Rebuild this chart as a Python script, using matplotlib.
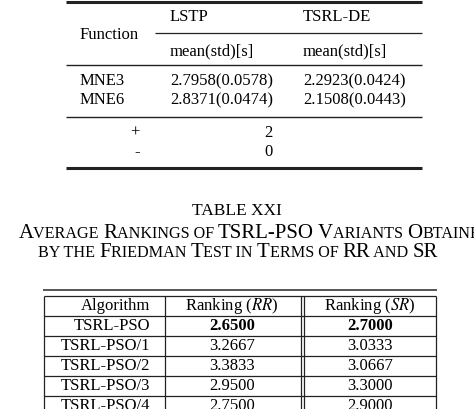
import matplotlib
matplotlib.use("Agg")
import matplotlib.pyplot as plt

plt.rcParams["font.family"] = ["Liberation Serif", "DejaVu Serif"]
plt.rcParams["mathtext.fontset"] = "stix"

# top table
top_cols = ["LSTP", "TSRL-DE"]
top_funcs = ["MNE3", "MNE6"]
top_vals = [["2.7958(0.0578)", "2.2923(0.0424)"],
            ["2.8371(0.0474)", "2.1508(0.0443)"]]
sig_labels = ["+", "-"]
sig_counts = ["2", "0"]

# bottom table
algorithms = ["TSRL-PSO", "TSRL-PSO/1", "TSRL-PSO/2", "TSRL-PSO/3", "TSRL-PSO/4"]
rank_rr = ["2.6500", "3.2667", "3.3833", "2.9500", "2.7500"]
rank_sr = ["2.7000", "3.0333", "3.0667", "3.3000", "2.9000"]

FS = 12
fig = plt.figure(figsize=(4.74, 4.09), dpi=100)
ax = fig.add_axes([0, 0, 1, 1])
ax.set_xlim(0, 474)
ax.set_ylim(409, 0)
ax.axis("off")

def hline(y, x0, x1, lw=1.0, c="#222"):
    ax.plot([x0, x1], [y, y], color=c, lw=lw, solid_capstyle="butt")

def vline(x, y0, y1, lw=0.9, c="#222"):
    ax.plot([x, x], [y0, y1], color=c, lw=lw, solid_capstyle="butt")

# ---- top table
hline(2, 66, 422, lw=2.2)
hline(33, 155, 422, lw=0.9)
hline(65, 66, 422, lw=1.0)
hline(117, 66, 422, lw=1.0)
hline(168, 66, 422, lw=2.2)
ax.text(80, 35, "Function", fontsize=FS, va="center")
xs = [170, 303]
for x, c in zip(xs, top_cols):
    ax.text(x, 17, c, fontsize=FS, va="center")
    ax.text(x, 51, "mean(std)[s]", fontsize=FS, va="center")
for i, f in enumerate(top_funcs):
    y = 81 + i * 19
    ax.text(80, y, f, fontsize=FS, va="center")
    for x, v in zip(xs, top_vals[i]):
        ax.text(x, y, v, fontsize=FS, va="center")
for i, (s, n) in enumerate(zip(sig_labels, sig_counts)):
    y = 133 + i * 19
    ax.text(140, y, s, fontsize=FS, va="center", ha="right")
    ax.text(273, y, n, fontsize=FS, va="center", ha="right")

# ---- caption (small caps emulated)
ax.text(237, 211, "TABLE XXI", fontsize=12.5, ha="center", va="center")

def small_caps(y, parts, xc):
    r = fig.canvas.get_renderer()
    texts, widths = [], []
    for s, big in parts:
        t = ax.text(0, y, s, fontsize=15 if big else 11.6, va="baseline")
        w = t.get_window_extent(r).width
        texts.append(t)
        widths.append(w)
    x = xc - sum(widths) / 2
    for t, w in zip(texts, widths):
        t.set_x(x)
        x += w

def parse(s):
    merged = []
    for ch in s:
        big = ch.isupper() or ch.isdigit() or ch in "-/"
        if merged and merged[-1][1] == big:
            merged[-1] = (merged[-1][0] + ch.upper(), big)
        else:
            merged.append((ch.upper(), big))
    return merged

small_caps(238, parse("Average Rankings of TSRL-PSO Variants Obtained"), 255)
small_caps(257, parse("by the Friedman Test in Terms of RR and SR"), 238)

# ---- bottom table
hline(290, 43, 437, lw=1.4, c="#555")
rows_y = [296 + 20 * k for k in range(7)]
for y in rows_y[:6]:
    hline(y, 44, 436, lw=0.9)
for x in [44, 165, 301, 304, 436]:
    vline(x, 296, 409)
ax.text(150, 306, "Algorithm", fontsize=FS, ha="right", va="center")
ax.text(232, 306, r"Ranking ($RR$)", fontsize=FS, ha="center", va="center")
ax.text(370, 306, r"Ranking ($SR$)", fontsize=FS, ha="center", va="center")
for i, (a, r1, r2) in enumerate(zip(algorithms, rank_rr, rank_sr)):
    y = 326 + 20 * i
    w = "bold" if i == 0 else "normal"
    ax.text(150, y, a, fontsize=FS, ha="right", va="center")
    ax.text(232, y, r1, fontsize=FS, ha="center", va="center", fontweight=w)
    ax.text(370, y, r2, fontsize=FS, ha="center", va="center", fontweight=w)

fig.savefig("out.png", dpi=100)
